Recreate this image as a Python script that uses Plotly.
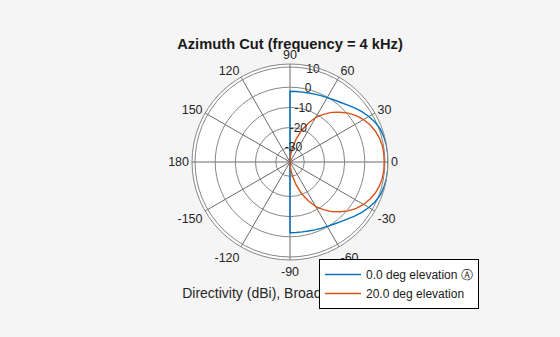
import plotly.graph_objects as go

# ---- data (dBi) ----
azimuth_deg = [-90, -85, -80, -75, -70, -65, -60, -55, -50, -45, -40, -35, -30, -25, -20,
               -15, -10, -5, 0, 5, 10, 15, 20, 25, 30, 35, 40, 45, 50, 55, 60, 65, 70,
               75, 80, 85, 90]
elev0_dbi = [-2.0, -2.0, -1.9, -1.7, -1.3, -0.8, -0.2, 0.6, 1.6, 3.0, 4.7, 6.4, 8.0, 9.5, 10.6,
             11.1, 11.4, 11.5, 11.5, 11.5, 11.4, 11.1, 10.6, 9.5, 8.0, 6.4, 4.7, 3.0, 1.6, 0.6,
             -0.2, -0.8, -1.3, -1.7, -1.9, -2.0, -2.0]
elev20_dbi = [-37.1, -34.0, -30.0, -25.3, -20.5, -16.0, -11.5, -8.3, -5.0, -2.2, 0.6, 3.0, 5.0,
              6.6, 7.9, 8.8, 9.4, 9.6, 9.6, 9.6, 9.4, 8.8, 7.9, 6.6, 5.0, 3.0, 0.6, -2.2, -5.0,
              -8.3, -11.5, -16.0, -20.5, -25.3, -30.0, -34.0, -37.1]
series_names = ["0.0 deg elevation \u24b6", "20.0 deg elevation"]

r_min, r_max = -37.1, 11.5
radial_ticks = [-30, -20, -10, 0, 10]
radial_labels = ["-30", "-20", "-10", "0", "10"]
radial_label_angle = 76
angle_ticks = [0, 30, 60, 90, 120, 150, 180, 210, 240, 270, 300, 330]
angle_labels = ["0", "30", "60", "90", "120", "150", "180", "-150", "-120", "-90", "-60", "-30"]

title_text = "Azimuth Cut (frequency = 4 kHz)"
subtitle_text = "Directivity (dBi), Broadside at 0.00"

FONT = "Liberation Sans, Arial, Helvetica, sans-serif"

# blue trace: drop to the (clipped) minimum at both ends along the +/-90 spokes
blue_theta = [azimuth_deg[0]] + azimuth_deg + [azimuth_deg[-1]]
blue_r = [r_min] + elev0_dbi + [r_min]

fig = go.Figure()
fig.add_trace(go.Scatterpolar(theta=blue_theta, r=blue_r, mode="lines",
                              line=dict(color="#0072BD", width=1.4),
                              name=series_names[0]))
fig.add_trace(go.Scatterpolar(theta=azimuth_deg, r=elev20_dbi, mode="lines",
                              line=dict(color="#D95319", width=1.4),
                              name=series_names[1]))
# radial tick labels, centred on the rings along the label direction
fig.add_trace(go.Scatterpolar(theta=[radial_label_angle] * len(radial_ticks), r=radial_ticks,
                              mode="text", text=radial_labels, showlegend=False,
                              hoverinfo="skip",
                              textfont=dict(size=12, color="#262626", family=FONT)))
# caption below the polar axes (on a hidden cartesian layer, under the legend)
fig.add_trace(go.Scatter(x=[288 / 560], y=[1 - 294 / 337], mode="text", text=[subtitle_text],
                         showlegend=False, hoverinfo="skip", cliponaxis=False,
                         textfont=dict(size=14, color="#262626", family=FONT)))

fig.update_layout(
    width=560, height=337,
    margin=dict(l=0, r=0, t=0, b=0),
    paper_bgcolor="#f5f5f5",
    plot_bgcolor="rgba(0,0,0,0)",
    font=dict(family=FONT, size=12, color="#262626"),
    xaxis=dict(range=[0, 1], domain=[0, 1], visible=False, fixedrange=True),
    yaxis=dict(range=[0, 1], domain=[0, 1], visible=False, fixedrange=True),
    polar=dict(
        domain=dict(x=[192 / 560, 388 / 560], y=[77 / 337, 273 / 337]),
        bgcolor="white",
        radialaxis=dict(range=[r_min, r_max], tickmode="array", tickvals=radial_ticks,
                        angle=radial_label_angle, showline=False, ticks="",
                        showticklabels=False,
                        gridcolor="#858585", gridwidth=1),
        angularaxis=dict(rotation=0, direction="counterclockwise",
                         tickmode="array", tickvals=angle_ticks, ticktext=angle_labels,
                         ticks="", showline=True, linecolor="#858585", linewidth=1,
                         gridcolor="#6a6a6a", gridwidth=1,
                         tickfont=dict(size=12.5, color="#262626")),
    ),
    title=dict(text="<b>" + title_text + "</b>", x=290 / 560, xanchor="center",
               y=1 - 44 / 337, yanchor="middle",
               font=dict(size=14.7, color="#1a1a1a", family=FONT)),
    showlegend=True,
    legend=dict(x=319 / 560, y=1 - 259 / 337, xanchor="left", yanchor="top",
                bgcolor="white", bordercolor="black", borderwidth=1,
                font=dict(size=12, color="#1a1a1a", family=FONT),
                itemwidth=36, tracegroupgap=0),
)

fig.write_html("out.html")
